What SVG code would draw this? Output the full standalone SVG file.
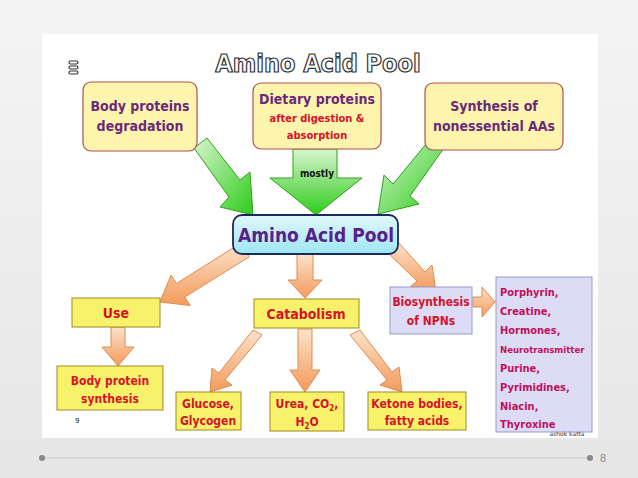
<svg xmlns="http://www.w3.org/2000/svg" width="638" height="478" viewBox="0 0 638 478">
<defs>
<linearGradient id="bg" x1="0" y1="0" x2="0" y2="1"><stop offset="0" stop-color="#f4f4f4"/><stop offset="1" stop-color="#e6e6e6"/></linearGradient>
<linearGradient id="gr" x1="0" y1="0" x2="0" y2="1"><stop offset="0" stop-color="#d8f5d0"/><stop offset="1" stop-color="#2ecc1a"/></linearGradient>
<linearGradient id="grd" x1="0" y1="0" x2="1" y2="1"><stop offset="0" stop-color="#d8f5d0"/><stop offset="1" stop-color="#2ecc1a"/></linearGradient>
<linearGradient id="or" x1="0" y1="0" x2="0" y2="1"><stop offset="0" stop-color="#fbe3cc"/><stop offset="1" stop-color="#f39a5a"/></linearGradient>
<linearGradient id="pool" x1="0" y1="0" x2="0" y2="1"><stop offset="0" stop-color="#e2f8fb"/><stop offset="1" stop-color="#9de6f2"/></linearGradient>
<style>
.t{font-family:"DejaVu Sans Condensed","DejaVu Sans",sans-serif;text-anchor:middle;font-weight:bold}
.p{fill:#6a2a7a}.r{fill:#d8112a}.m{fill:#c0105a}
.yb{fill:#fdf4ae;stroke:#b05050;stroke-width:1.2}
.ys{fill:#f8f26a;stroke:#a08a20;stroke-width:1}
.lv{fill:#dcdcf6;stroke:#9a9ac8;stroke-width:1}
.ga{stroke:#30a020;stroke-width:1}
.oa{fill:url(#or);stroke:#e08a50;stroke-width:1}
</style>
</defs>
<rect width="638" height="478" fill="url(#bg)"/>
<rect x="42" y="34" width="556" height="404" fill="#fff"/>
<text x="318" y="72" class="t" font-size="25" fill="#fff" stroke="#333" stroke-width="1.2">Amino Acid Pool</text>
<g fill="none" stroke="#333" stroke-width="1.2"><rect x="69" y="61" width="9" height="3" rx="1.5"/><rect x="69" y="66" width="9" height="3" rx="1.5"/><rect x="69" y="71" width="9" height="3" rx="1.5"/></g>
<g id="connectors">
<polygon class="ga" fill="url(#grd)" points="194,148 207,138 240,180 250,172 253,215 220,207 229,197" />
<polygon class="ga" fill="url(#gr)" points="293,149 337,149 337,178 362,178 316,215 270,178 293,178"/>
<polygon class="ga" fill="url(#grd)" points="431,138 444,148 410,196 419,204 378,214 384,175 393,184"/>
<polygon class="oa" points="240.8,243.2 176.4,283.5 171,275.1 160,302 190.2,305.5 184.8,297.1 249.2,256.8"/>
<polygon class="oa" points="297,254 313,254 313,280 322,280 305,298 288,280 297,280"/>
<polygon class="oa" points="385,250 398,242 425,272 432,265 436,292 410,287 417,281"/>
<polygon class="oa" points="473,297 482,297 482,287 495,302 482,317 482,307 473,307"/>
<polygon class="oa" points="111,327 125,327 125,347 134,347 118,366 102,347 111,347"/>
<polygon class="oa" points="253,330 262,335 225,380 232,385 210,392 212,368 219,373"/>
<polygon class="oa" points="298,329 312,329 312,370 320,370 305,392 290,370 298,370"/>
<polygon class="oa" points="350,335 360,330 392,372 399,367 402,392 380,385 387,380"/>
</g>
<g id="box-body"><rect class="yb" x="83" y="82" width="114" height="69" rx="8"/><text class="t p" x="140" y="111" font-size="14">Body proteins</text><text class="t p" x="140" y="131" font-size="14">degradation</text></g>
<g id="box-diet"><rect class="yb" x="253" y="83" width="128" height="66" rx="8"/><text class="t p" x="317" y="104" font-size="14">Dietary proteins</text><text class="t r" x="317" y="122" font-size="11">after digestion &amp;</text><text class="t r" x="317" y="139" font-size="11">absorption</text></g>
<text class="t" x="317" y="177" font-size="10" fill="#111">mostly</text>
<g id="box-synth"><rect class="yb" x="425" y="83" width="138" height="67" rx="8"/><text class="t p" x="494" y="111" font-size="14">Synthesis of</text><text class="t p" x="494" y="131" font-size="14">nonessential AAs</text></g>
<g id="box-pool"><rect x="233" y="215" width="165" height="39" rx="9" fill="url(#pool)" stroke="#1a2a5a" stroke-width="1.8"/><text class="t" x="316" y="242" font-size="19" fill="#5a1f8a">Amino Acid Pool</text></g>
<g id="box-use"><rect class="ys" x="72" y="298" width="88" height="29"/><text class="t r" x="116" y="318" font-size="14">Use</text></g>
<g id="box-cat"><rect class="ys" x="254" y="299" width="105" height="29"/><text class="t r" x="306" y="319" font-size="14">Catabolism</text></g>
<g id="box-bio"><rect class="lv" x="390" y="287" width="82" height="47"/><text class="t r" x="431" y="306" font-size="12">Biosynthesis</text><text class="t r" x="431" y="325" font-size="12">of NPNs</text></g>
<g id="box-list"><rect class="lv" x="496" y="277" width="96" height="155"/>
<g class="t m" font-size="11" style="text-anchor:start">
<text x="500" y="296">Porphyrin,</text><text x="500" y="315">Creatine,</text><text x="500" y="334">Hormones,</text><text x="500" y="353" font-size="9.5">Neurotransmitter</text><text x="500" y="372">Purine,</text><text x="500" y="391">Pyrimidines,</text><text x="500" y="410">Niacin,</text><text x="500" y="428">Thyroxine</text></g></g>
<g id="box-bps"><rect class="ys" x="57" y="366" width="106" height="44"/><text class="t r" x="110" y="385" font-size="12">Body protein</text><text class="t r" x="110" y="403" font-size="12">synthesis</text></g>
<g id="box-glu"><rect class="ys" x="176" y="392" width="65" height="38"/><text class="t r" x="208" y="408" font-size="12">Glucose,</text><text class="t r" x="208" y="425" font-size="12">Glycogen</text></g>
<g id="box-urea"><rect class="ys" x="270" y="392" width="74" height="39"/><text class="t r" x="307" y="408" font-size="12">Urea, CO<tspan font-size="8" dy="3">2</tspan><tspan dy="-3">,</tspan></text><text class="t r" x="307" y="426" font-size="12">H<tspan font-size="8" dy="3">2</tspan><tspan dy="-3">O</tspan></text></g>
<g id="box-ket"><rect class="ys" x="368" y="392" width="98" height="38"/><text class="t r" x="417" y="408" font-size="12">Ketone bodies,</text><text class="t r" x="417" y="425" font-size="12">fatty acids</text></g>
<text x="75" y="423" font-family="DejaVu Sans" font-size="7" fill="#222">9</text>
<text x="567" y="436" font-family="DejaVu Sans" font-size="6" fill="#333" text-anchor="middle">ashok katta</text>
<line x1="42" y1="458" x2="590" y2="458" stroke="#c8c8c8" stroke-width="1"/>
<circle cx="42" cy="458" r="3" fill="#888"/><circle cx="590" cy="458" r="3" fill="#888"/>
<text x="600" y="462" font-family="Liberation Sans" font-size="11" fill="#888">8</text>
</svg>
